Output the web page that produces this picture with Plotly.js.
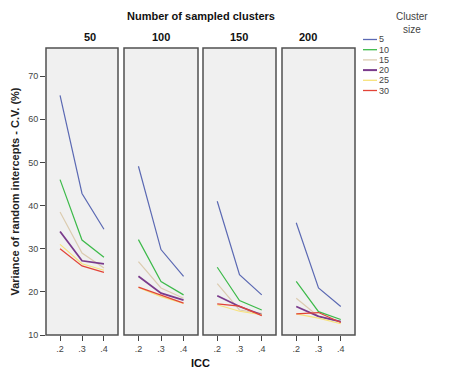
<!DOCTYPE html>
<html><head><meta charset="utf-8">
<script src="https://cdn.plot.ly/plotly-3.0.1.min.js"></script>
<style>body{margin:0;background:#fff}</style>
</head><body><div id="chart" style="width:474px;height:380px"></div>
<script>
const icc = [0.2, 0.3, 0.4];
const iccLabels = ['.2', '.3', '.4'];
const panels = ['50', '100', '150', '200'];
const sizes = ['5', '10', '15', '20', '25', '30'];
const colors = ['#5b69b3', '#3dba4a', '#dcccb0', '#7a3b8c', '#f7e27c', '#e24438'];
// values[panel][size] = [ICC .2, .3, .4]
const p50 = [[65.5, 42.8, 34.5], [46, 32, 28], [38.5, 29, 25.5], [34, 27.2, 26.5], [31, 26.5, 25], [30, 26, 24.5]];
const p100 = [[49.1, 29.8, 23.6], [32.1, 22.4, 19.3], [27, 20.9, 18.5], [23.6, 19.7, 18.1], [21, 18.9, 17.3], [21.1, 19.3, 17.4]];
const p150 = [[41, 24, 19.3], [25.7, 18, 15.8], [21.9, 15.8, 15], [19.1, 16.6, 14.7], [17, 15.5, 14.7], [17.2, 16.7, 14.5]];
const p200 = [[36, 20.9, 16.6], [22.4, 15.4, 13.6], [18.5, 14.3, 13.1], [16.6, 14.3, 13.1], [14.9, 13.9, 12.6], [14.9, 15.2, 12.9]];
const panelData = [p50, p100, p150, p200];

const W = 309, H = 287, T = 48;
const doms = [[0, 72/W], [78/W, 152/W], [157/W, 230/W], [236/W, 1]];
const traces = [];
panelData.forEach((pd, pi) => {
  pd.forEach((vals, si) => {
    traces.push({
      x: icc, y: vals, type: 'scatter', mode: 'lines',
      line: {color: colors[si], width: si === 3 ? 1.8 : 1.2},
      name: sizes[si], showlegend: false,
      xaxis: pi === 0 ? 'x' : 'x' + (pi + 1), yaxis: 'y',
      hoverinfo: 'skip'
    });
  });
});
const layout = {
  width: 474, height: 380,
  margin: {l: 46, r: 119, t: 48, b: 45},
  paper_bgcolor: '#ffffff', plot_bgcolor: 'rgba(0,0,0,0)',
  font: {family: 'Liberation Sans, Arial, sans-serif', size: 9, color: '#333'},
  showlegend: false,
  yaxis: {range: [10, 76.5], tickvals: [10, 20, 30, 40, 50, 60, 70], ticks: 'outside', ticklen: 5,
    tickcolor: '#444', showgrid: false, zeroline: false, showline: false,
    tickfont: {size: 9, color: '#444'},
    title: {text: '<b>Variance of random intercepts - C.V. (%)</b>', font: {size: 11, color: '#222'}, standoff: 6}},
  shapes: [], annotations: []
};
panels.forEach((p, i) => {
  const key = i === 0 ? 'xaxis' : 'xaxis' + (i + 1);
  layout[key] = {domain: doms[i], range: [0.136, 0.464], tickvals: icc, ticktext: iccLabels,
    ticks: 'outside', ticklen: 5, tickcolor: '#444', showgrid: false, zeroline: false,
    showline: false, anchor: 'y',
    tickfont: {size: 9, color: '#444'}};
  layout.shapes.push({type: 'rect', xref: 'paper', yref: 'paper', x0: doms[i][0], x1: doms[i][1], y0: 0, y1: 1,
    fillcolor: '#f0f0f0', line: {width: 0}, layer: 'below'});
  layout.shapes.push({type: 'rect', xref: 'paper', yref: 'paper', x0: doms[i][0], x1: doms[i][1], y0: 0, y1: 1,
    fillcolor: 'rgba(0,0,0,0)', line: {width: 1.5, color: '#505050'}, layer: 'above'});
  layout.annotations.push({text: '<b>' + p + '</b>', xref: 'paper', yref: 'paper',
    x: (doms[i][0] + doms[i][1]) / 2, y: 1, yanchor: 'bottom', yshift: 3, showarrow: false,
    font: {size: 11, color: '#111'}});
});
layout.annotations.push({text: '<b>Number of sampled clusters</b>', xref: 'paper', yref: 'paper',
  x: 0.5, y: 1, yanchor: 'bottom', yshift: 24, showarrow: false, font: {size: 11, color: '#111'}});
layout.annotations.push({text: '<b>ICC</b>', xref: 'paper', yref: 'paper',
  x: 0.5, y: 0, yanchor: 'top', yshift: -20, showarrow: false, font: {size: 11, color: '#111'}});
// legend (drawn from sizes/colors)
const px = v => (v - 46) / W;
const py = v => (T + H - v) / H;
layout.annotations.push({text: 'Cluster<br>size', xref: 'paper', yref: 'paper', x: px(412), y: py(9),
  xanchor: 'center', yanchor: 'top', showarrow: false, align: 'center',
  font: {size: 10, color: '#444'}});
sizes.forEach((s, i) => {
  const yy = 39.5 + i * 10.2;
  layout.shapes.push({type: 'line', xref: 'paper', yref: 'paper', x0: px(363), x1: px(377), y0: py(yy), y1: py(yy),
    line: {color: colors[i], width: i === 3 ? 2 : 1.3}});
  layout.annotations.push({text: s, xref: 'paper', yref: 'paper', x: px(377), y: py(yy),
    xanchor: 'left', yanchor: 'middle', showarrow: false, font: {size: 9, color: '#444'}});
});
Plotly.newPlot('chart', traces, layout, {displayModeBar: false, staticPlot: true});
</script></body></html>
